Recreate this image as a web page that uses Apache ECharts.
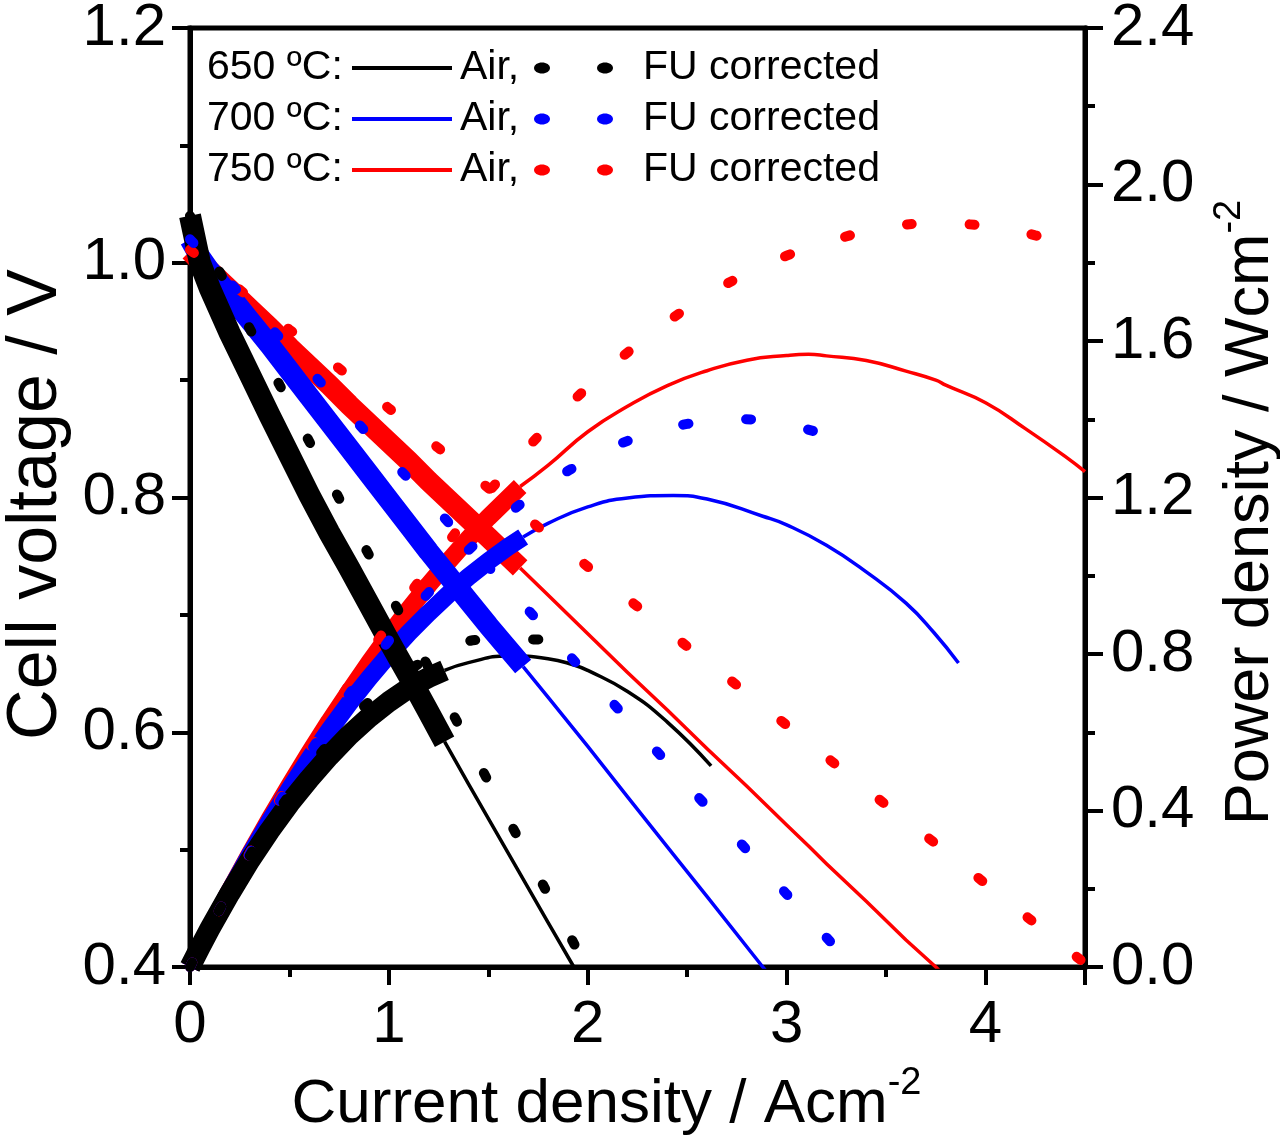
<!DOCTYPE html>
<html><head><meta charset="utf-8">
<script src="https://cdn.jsdelivr.net/npm/echarts@6/dist/echarts.min.js"></script>
<style>html,body{margin:0;padding:0;background:#fff;overflow:hidden;width:1280px;height:1139px}#c{width:1280px;height:1139px}</style>
</head><body><div id="c"></div>
<script>
// ---- x tick labels ----
const xTicks = [0, 1, 2, 3, 4];
// ---- 650 C, Air: measured (thick) and fitted extension (thin) ----
const j650m = [0, 0.05, 0.1, 0.2, 0.3, 0.4, 0.5, 0.6, 0.7, 0.8, 0.9, 1.0, 1.1, 1.2, 1.28];
const V650m = [1.04, 1.0, 0.978, 0.94, 0.905, 0.87, 0.836, 0.802, 0.77, 0.74, 0.709, 0.678, 0.648, 0.617, 0.592];
const P650m = [0, 0.05, 0.098, 0.188, 0.272, 0.348, 0.418, 0.481, 0.539, 0.592, 0.638, 0.678, 0.713, 0.74, 0.758];
const j650f = [1.28, 1.4, 1.6, 1.8, 1.93, 2.0, 2.2, 2.4, 2.62];
const V650f = [0.592, 0.556, 0.497, 0.438, 0.40, 0.379, 0.32, 0.261, 0.196];
const P650f = [0.758, 0.778, 0.795, 0.788, 0.772, 0.758, 0.704, 0.626, 0.514];
// ---- 700 C, Air ----
const j700m = [0, 0.05, 0.1, 0.2, 0.3, 0.4, 0.5, 0.6, 0.7, 0.8, 0.9, 1.0, 1.1, 1.2, 1.3, 1.4, 1.5, 1.6, 1.675];
const V700m = [1.02, 1.005, 0.993, 0.972, 0.951, 0.93, 0.908, 0.886, 0.864, 0.842, 0.82, 0.798, 0.776, 0.754, 0.733, 0.712, 0.691, 0.671, 0.656];
const P700m = [0, 0.05, 0.099, 0.194, 0.285, 0.372, 0.454, 0.532, 0.605, 0.674, 0.738, 0.798, 0.854, 0.905, 0.953, 0.997, 1.037, 1.074, 1.099];
const j700f = [1.675, 1.8, 2.0, 2.2, 2.43, 2.6, 2.88, 3.0, 3.2, 3.4, 3.6, 3.74, 3.864];
const V700f = [0.656, 0.63, 0.588, 0.545, 0.496, 0.46, 0.40, 0.375, 0.333, 0.29, 0.248, 0.22, 0.192];
const P700f = [1.099, 1.134, 1.176, 1.199, 1.205, 1.196, 1.152, 1.13, 1.078, 1.01, 0.93, 0.855, 0.777];
// ---- 750 C, Air ----
const j750m = [0, 0.1, 0.2, 0.3, 0.4, 0.5, 0.6, 0.7, 0.8, 0.9, 1.0, 1.1, 1.2, 1.3, 1.4, 1.5, 1.66];
const V750m = [1.01, 0.993, 0.977, 0.961, 0.945, 0.928, 0.912, 0.896, 0.879, 0.863, 0.847, 0.831, 0.814, 0.798, 0.782, 0.766, 0.74];
const P750m = [0, 0.099, 0.195, 0.288, 0.378, 0.464, 0.547, 0.627, 0.703, 0.777, 0.847, 0.914, 0.977, 1.037, 1.095, 1.149, 1.228];
const j750f = [1.66, 1.8, 2.0, 2.2, 2.4, 2.6, 2.8, 3.0, 3.11, 3.2, 3.4, 3.6, 3.75, 3.8, 4.0, 4.2, 4.4, 4.5];
const V750f = [0.74, 0.717, 0.684, 0.651, 0.619, 0.586, 0.554, 0.521, 0.503, 0.488, 0.456, 0.423, 0.40, 0.391, 0.358, 0.325, 0.293, 0.277];
const P750f = [1.228, 1.282, 1.368, 1.433, 1.486, 1.524, 1.551, 1.563, 1.566, 1.562, 1.55, 1.523, 1.5, 1.487, 1.442, 1.376, 1.305, 1.266];
// ---- FU corrected ----
const jFU650 = [0, 0.25, 0.5, 0.75, 1.0, 1.25, 1.5, 1.75, 1.98];
const VFU650 = [1.04, 0.96, 0.88, 0.799, 0.719, 0.639, 0.558, 0.478, 0.404];
const PFU650 = [0, 0.24, 0.44, 0.599, 0.719, 0.799, 0.837, 0.837, 0.80];
const jFU700 = [0, 0.25, 0.5, 0.75, 1.0, 1.25, 1.5, 1.75, 2.0, 2.25, 2.5, 2.75, 3.0, 3.25];
const VFU700 = [1.02, 0.974, 0.927, 0.881, 0.834, 0.788, 0.741, 0.695, 0.648, 0.602, 0.555, 0.509, 0.462, 0.416];
const PFU700 = [0, 0.243, 0.464, 0.66, 0.834, 0.985, 1.112, 1.216, 1.296, 1.354, 1.388, 1.4, 1.386, 1.352];
const jFU750 = [0, 0.25, 0.5, 0.75, 1.0, 1.25, 1.5, 1.75, 2.0, 2.25, 2.5, 2.75, 3.0, 3.25, 3.5, 3.75, 4.0, 4.25, 4.5];
const VFU750 = [1.011, 0.977, 0.943, 0.91, 0.876, 0.842, 0.808, 0.775, 0.741, 0.707, 0.673, 0.64, 0.606, 0.572, 0.538, 0.505, 0.471, 0.437, 0.403];
const PFU750 = [0, 0.244, 0.472, 0.682, 0.876, 1.053, 1.213, 1.356, 1.482, 1.591, 1.684, 1.76, 1.818, 1.86, 1.89, 1.90, 1.895, 1.87, 1.83];
// ---- legend rows ----
const legendTemps = ['650 ºC:', '700 ºC:', '750 ºC:'];
const colors = ['#000000', '#0000ff', '#ff0000'];

const zip = (a, b) => a.map((x, i) => [x, b[i]]);
const FONT = 'Liberation Sans, Arial, Helvetica, sans-serif';

function thin(data, color, yi, sm) {
  return {type: 'line', data, yAxisIndex: yi, symbol: 'none', smooth: sm,
    lineStyle: {color, width: 3.5, join: 'round'}, z: 2};
}
function thick(data, color, yi, w) {
  return {type: 'line', data, yAxisIndex: yi, symbol: 'none', smooth: false,
    lineStyle: {color, width: w, cap: 'butt', join: 'round'}, z: 3};
}
function dotted(data, color, yi, sm) {
  return {type: 'line', data, yAxisIndex: yi, symbol: 'none', smooth: sm,
    lineStyle: {color, width: 10, type: [5, 58], cap: 'round'}, z: 4};
}

const series = [
  thin(zip(j750f, V750f), colors[2], 0, false), thin(zip(j750f, P750f), colors[2], 1, 0.5),
  thin(zip(j700f, V700f), colors[1], 0, false), thin(zip(j700f, P700f), colors[1], 1, 0.5),
  thin(zip(j650f, V650f), colors[0], 0, false), thin(zip(j650f, P650f), colors[0], 1, 0.5),
  thick(zip(j750m, V750m), colors[2], 0, 21), thick(zip(j750m, P750m), colors[2], 1, 18),
  thick(zip(j700m, V700m), colors[1], 0, 21), thick(zip(j700m, P700m), colors[1], 1, 18),
  thick(zip(j650m, V650m), colors[0], 0, 22), thick(zip(j650m, P650m), colors[0], 1, 21),
  dotted(zip(jFU750, VFU750), colors[2], 0, false), dotted(zip(jFU750, PFU750), colors[2], 1, 0.5),
  dotted(zip(jFU700, VFU700), colors[1], 0, false), dotted(zip(jFU700, PFU700), colors[1], 1, 0.5),
  dotted(zip(jFU650, VFU650), colors[0], 0, false), dotted(zip(jFU650, PFU650), colors[0], 1, 0.5)
];

const axisCommon = {
  axisLine: {show: true, lineStyle: {color: '#000', width: 5}},
  axisTick: {show: true, inside: false, length: 18, lineStyle: {color: '#000', width: 4}},
  minorTick: {show: true, splitNumber: 2, length: 10, lineStyle: {color: '#000', width: 4}},
  splitLine: {show: false}, minorSplitLine: {show: false}
};

const graphic = [];
legendTemps.forEach((t, i) => {
  const y = 68 + i * 51;
  graphic.push({type: 'text', left: 207, top: y - 21, style: {text: t, font: '41px ' + FONT, fill: '#000'}});
  graphic.push({type: 'line', shape: {x1: 352, y1: y, x2: 452, y2: y}, style: {stroke: colors[i], lineWidth: 4}});
  graphic.push({type: 'text', left: 460, top: y - 21, style: {text: 'Air,', font: '41px ' + FONT, fill: '#000'}});
  graphic.push({type: 'ellipse', shape: {cx: 542, cy: y, rx: 8, ry: 5.5}, style: {fill: colors[i]}});
  graphic.push({type: 'ellipse', shape: {cx: 605, cy: y, rx: 8, ry: 5.5}, style: {fill: colors[i]}});
  graphic.push({type: 'text', left: 643, top: y - 21, style: {text: 'FU corrected', font: '41px ' + FONT, fill: '#000'}});
});

const chart = echarts.init(document.getElementById('c'), null, {renderer: 'canvas', width: 1280, height: 1139});
chart.setOption({
  animation: false,
  backgroundColor: '#fff',
  textStyle: {fontFamily: FONT},
  grid: {left: 190, right: 195, top: 28, bottom: 172, containLabel: false, outerBoundsMode: 'none',
    show: true, borderColor: '#000', borderWidth: 5, backgroundColor: 'transparent'},
  xAxis: Object.assign({
    type: 'value', min: 0, max: 4.5, interval: 1,
    axisLabel: {fontSize: 60, color: '#000', margin: 28, showMaxLabel: false, fontFamily: FONT,
      formatter: v => (xTicks.indexOf(v) >= 0 ? String(v) : '')},
    name: 'Current density / Acm{sup|-2}', nameLocation: 'middle', nameGap: 98,
    nameTextStyle: {fontSize: 62, color: '#000', fontFamily: FONT, padding: [0, 62, 0, 0],
      rich: {sup: {fontSize: 38, color: '#000', fontFamily: FONT, padding: [0, 0, 42, 0]}}}
  }, axisCommon),
  yAxis: [
    Object.assign({
      type: 'value', position: 'left', min: 0.4, max: 1.2, interval: 0.2,
      axisLabel: {fontSize: 60, color: '#000', margin: 24, fontFamily: FONT, formatter: v => v.toFixed(1)},
      name: 'Cell voltage / V', nameLocation: 'middle', nameGap: 116, nameRotate: 90,
      nameTextStyle: {fontSize: 70, color: '#000', fontFamily: FONT, padding: [0, 14, 0, 0]}
    }, axisCommon),
    Object.assign({
      type: 'value', position: 'right', min: 0, max: 2.4, interval: 0.4,
      axisLabel: {fontSize: 60, color: '#000', margin: 26, fontFamily: FONT, formatter: v => v.toFixed(1)},
      name: 'Power density / Wcm{sup|-2}', nameLocation: 'middle', nameGap: 126, nameRotate: 90,
      nameTextStyle: {fontSize: 63, color: '#000', fontFamily: FONT, padding: [0, 30, 0, 0],
        rich: {sup: {fontSize: 38, color: '#000', fontFamily: FONT, padding: [0, 0, 42, 0]}}}
    }, axisCommon)
  ],
  graphic,
  series
});
</script>
</body></html>
